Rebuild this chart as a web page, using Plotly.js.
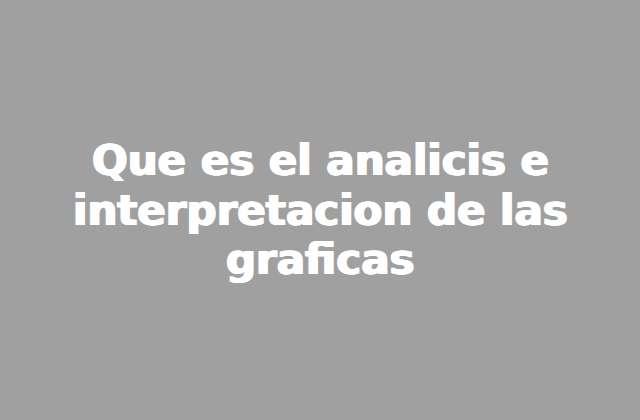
<!DOCTYPE html>
<html>
<head>
<meta charset="utf-8">
<script src="https://cdn.plot.ly/plotly-3.0.1.min.js"></script>
<style>
  html, body { margin: 0; padding: 0; background: #a0a0a0; }
  #grafico { width: 640px; height: 420px; }
</style>
</head>
<body>
<div id="grafico"></div>
<script>
// title lines and where each one sits (paper y)
const lineas = ['Que es el analicis e', 'interpretacion de las', 'graficas'];
const posicionesY = [0.617, 0.500, 0.383];

const annotations = lineas.map((texto, i) => ({
    text: texto,
    x: 0.5,
    y: posicionesY[i],
    xref: 'paper',
    yref: 'paper',
    xanchor: 'center',
    yanchor: 'middle',
    showarrow: false,
    borderpad: 0,
    font: {
        family: 'DejaVu Sans, sans-serif',
        size: 42,
        color: '#ffffff',
        weight: 'bold',
        shadow: '1px 0 0 #ffffff, -1px 0 0 #ffffff'
    }
}));

const layout = {
    width: 640,
    height: 420,
    paper_bgcolor: '#a0a0a0',
    plot_bgcolor: '#a0a0a0',
    margin: { l: 0, r: 0, t: 0, b: 0 },
    xaxis: { visible: false, range: [0, 1] },
    yaxis: { visible: false, range: [0, 1] },
    showlegend: false,
    annotations: annotations
};

Plotly.newPlot('grafico', [], layout, { staticPlot: true, displayModeBar: false });
</script>
</body>
</html>
